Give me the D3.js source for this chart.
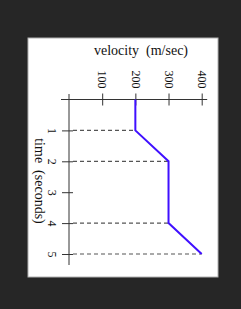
<!DOCTYPE html>
<html lang="en">
<head>
    <meta charset="UTF-8">
    <title>Velocity vs time</title>
    <script src="https://d3js.org/d3.v7.min.js"></script>
    <style>
        body { margin: 0; padding: 0; background-color: #262626; }
        svg { display: block; }
        text { font-family: "Liberation Serif", "DejaVu Serif", serif; fill: #111; }
    </style>
</head>
<body>
    <svg></svg>
    <script>
        // data
        const times = [0, 1, 2, 4, 5];
        const velocities = [200, 200, 300, 300, 400];
        const dashTimes = [1, 2, 4, 5];
        const velocityTicks = [100, 200, 300, 400];
        const timeTicks = [1, 2, 3, 4, 5];

        const width = 241, height = 309;
        const svg = d3.select("svg").attr("width", width).attr("height", height);

        svg.append("rect").attr("width", width).attr("height", height).attr("fill", "#262626");
        svg.append("rect")
            .attr("x", 28).attr("y", 38).attr("width", 190).attr("height", 239)
            .attr("fill", "#ffffff").attr("stroke", "#b0b0b0");

        const x = d3.scaleLinear().domain([0, 400]).range([69, 201.7]);
        const y = d3.scaleLinear().domain([0, 5]).range([99.5, 254]);

        // dashed guides
        svg.selectAll("line.guide").data(dashTimes).enter().append("line")
            .attr("class", "guide")
            .attr("x1", x(0) + 4)
            .attr("x2", t => x(velocities[times.indexOf(t)]))
            .attr("y1", t => y(t)).attr("y2", t => y(t))
            .attr("stroke", "#555").attr("stroke-width", 1.2)
            .attr("stroke-dasharray", "4,3");

        // axes lines
        svg.append("line")
            .attr("x1", x(0) - 8).attr("x2", x(400) + 5.5)
            .attr("y1", y(0)).attr("y2", y(0))
            .attr("stroke", "#333");
        svg.append("line")
            .attr("x1", x(0)).attr("x2", x(0))
            .attr("y1", y(0) - 5.5).attr("y2", y(5) + 11)
            .attr("stroke", "#333");

        const xAxis = svg.append("g")
            .attr("transform", `translate(0,${y(0)})`)
            .call(d3.axisTop(x).tickValues(velocityTicks).tickSize(0).tickFormat(d3.format("d")));
        xAxis.select(".domain").remove();
        xAxis.selectAll(".tick line").attr("y1", -6).attr("y2", 6).attr("stroke", "#333");
        xAxis.selectAll(".tick text")
            .attr("x", 0).attr("y", 0).attr("dy", "0.35em")
            .attr("transform", "translate(0,-11) rotate(90)")
            .attr("text-anchor", "end")
            .style("font-size", "12px")
            .style("font-family", "Liberation Serif, serif")
            .attr("fill", "#111");

        const yAxis = svg.append("g")
            .attr("transform", `translate(${x(0)},0)`)
            .call(d3.axisLeft(y).tickValues(timeTicks).tickSize(0).tickFormat(d3.format("d")));
        yAxis.select(".domain").remove();
        yAxis.selectAll(".tick line").attr("x1", -7).attr("x2", 4).attr("stroke", "#333");
        yAxis.selectAll(".tick text")
            .attr("x", 0).attr("y", 0).attr("dy", "0.35em")
            .attr("transform", "translate(-17,0) rotate(90)")
            .attr("text-anchor", "middle")
            .style("font-size", "12px")
            .style("font-family", "Liberation Serif, serif")
            .attr("fill", "#111");

        // velocity curve
        const line = d3.line().x(d => x(d[1])).y(d => y(d[0]));
        svg.append("path")
            .datum(times.map((t, i) => [t, velocities[i]]))
            .attr("d", line)
            .attr("fill", "none")
            .attr("stroke", "#4010ff")
            .attr("stroke-width", 2);

        // titles
        svg.append("text")
            .attr("x", 141).attr("y", 55)
            .attr("text-anchor", "middle")
            .style("font-size", "14px")
            .text("velocity\u00a0\u00a0(m/sec)");
        svg.append("text")
            .attr("transform", "translate(40,181) rotate(90)")
            .attr("dy", "0.35em")
            .attr("text-anchor", "middle")
            .style("font-size", "14px")
            .text("time\u00a0\u00a0(seconds)");
    </script>
</body>
</html>
